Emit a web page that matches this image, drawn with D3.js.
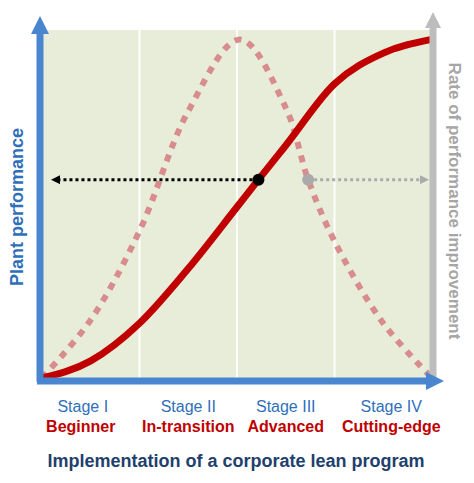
<!DOCTYPE html>
<html><head><meta charset="UTF-8">
<script src="https://d3js.org/d3.v7.min.js"></script>
<style>body{margin:0;background:#fff;font-family:"Liberation Sans",Arial,sans-serif}</style>
</head><body><svg width="474" height="483"></svg>
<script>
const stages = ["Stage I","Stage II","Stage III","Stage IV"];
const levels = ["Beginner","In-transition","Advanced","Cutting-edge"];
const performance = [[0,0],[0.5,0.05],[1,0.16],[1.5,0.32],[2,0.5],[2.22,0.58],[2.5,0.68],[3,0.86],[3.5,0.95],[4,0.99]];
const rate = [[0,0],[0.5,0.17],[1,0.43],[1.5,0.78],[2.03,0.99],[2.5,0.79],[2.73,0.58],[3,0.4],[3.5,0.16],[4,0]];
const marker = {perfX:2.22, rateX:2.73, y:0.58};

const svg = d3.select("svg");
const x = d3.scaleLinear().domain([0,4]).range([42,432]);
const y = d3.scaleLinear().domain([0,1]).range([378,36]);
const defs = svg.append("defs");
function arrow(id,color,w,h){
  defs.append("marker").attr("id",id).attr("viewBox","0 0 10 10").attr("refX",0).attr("refY",5)
    .attr("markerWidth",w).attr("markerHeight",h).attr("markerUnits","userSpaceOnUse").attr("orient","auto")
    .append("path").attr("d","M0,0L10,5L0,10Z").attr("fill",color);
}
arrow("ab","#4a86cf",18,18); arrow("ag","#bdbdbd",16,16); arrow("ak","#000",9,9); arrow("ag2","#aaa",9,9);

svg.append("rect").attr("x",x(0)).attr("y",y(1)-6).attr("width",x(4)-x(0)).attr("height",y(0)-y(1)+6).attr("fill","#e8edda");
svg.selectAll(".grid").data([1,2,3]).join("line").attr("x1",d=>x(d)).attr("x2",d=>x(d))
  .attr("y1",y(1)-6).attr("y2",y(0)).attr("stroke","#fff").attr("stroke-width",2);

const pline = d3.line().x(d=>x(d[0])).y(d=>y(d[1])).curve(d3.curveMonotoneX);
const rline = d3.line().x(d=>x(d[0])).y(d=>y(d[1])).curve(d3.curveCatmullRom.alpha(0.5));
svg.append("path").datum(rate).attr("d",rline).attr("fill","none").attr("stroke","#d98c8e").attr("stroke-width",6).attr("stroke-dasharray","7,7");

svg.append("line").attr("x1",x(marker.perfX)).attr("x2",x(0)+18).attr("y1",y(marker.y)).attr("y2",y(marker.y))
  .attr("stroke","#000").attr("stroke-width",3).attr("stroke-dasharray","3,3").attr("marker-end","url(#ak)");
svg.append("line").attr("x1",x(marker.rateX)).attr("x2",x(4)-12).attr("y1",y(marker.y)).attr("y2",y(marker.y))
  .attr("stroke","#aaa").attr("stroke-width",3).attr("stroke-dasharray","3,3").attr("marker-end","url(#ag2)");

svg.append("path").datum(performance).attr("d",pline).attr("fill","none").attr("stroke","#c00000").attr("stroke-width",7).attr("stroke-linecap","round");
svg.append("circle").attr("cx",x(marker.perfX)).attr("cy",y(marker.y)).attr("r",6).attr("fill","#000");
svg.append("circle").attr("cx",x(marker.rateX)).attr("cy",y(marker.y)).attr("r",6).attr("fill","#aaa");

svg.append("line").attr("x1",x(4)+1).attr("x2",x(4)+1).attr("y1",y(0)+2).attr("y2",y(1)-8).attr("stroke","#bdbdbd").attr("stroke-width",7).attr("marker-end","url(#ag)");
svg.append("line").attr("x1",x(0)-2).attr("x2",x(0)-2).attr("y1",y(0)+4).attr("y2",y(1)-2).attr("stroke","#4a86cf").attr("stroke-width",7).attr("marker-end","url(#ab)");
svg.append("line").attr("x1",x(0)-5).attr("x2",x(4)-6).attr("y1",y(0)+3).attr("y2",y(0)+3).attr("stroke","#4a86cf").attr("stroke-width",7).attr("marker-end","url(#ab)");

svg.append("text").attr("transform",`translate(23,${(y(0)+y(1))/2}) rotate(-90)`).attr("text-anchor","middle")
  .attr("font-size",18).attr("font-weight","bold").attr("fill","#2f6fba").text("Plant performance");
svg.append("text").attr("transform",`translate(449,${(y(0)+y(1))/2-6}) rotate(90)`).attr("text-anchor","middle")
  .attr("font-size",17).attr("font-weight","bold").attr("fill","#a6a6a6").text("Rate of performance improvement");

svg.selectAll(".st").data(stages).join("text").attr("x",(d,i)=>x(i+0.5)+(i==0?-8:i==3?8:0)).attr("y",412).attr("text-anchor","middle")
  .attr("font-size",16).attr("fill","#2f6fba").text(d=>d);
svg.selectAll(".lv").data(levels).join("text").attr("x",(d,i)=>x(i+0.5)+(i==0?-10:i==3?8:0)).attr("y",432).attr("text-anchor","middle")
  .attr("font-size",16).attr("font-weight","bold").attr("fill","#c00000").text(d=>d);
svg.append("text").attr("x",236).attr("y",467).attr("text-anchor","middle").attr("font-size",18).attr("font-weight","bold")
  .attr("fill","#1f3f6e").text("Implementation of a corporate lean program");
</script></body></html>
